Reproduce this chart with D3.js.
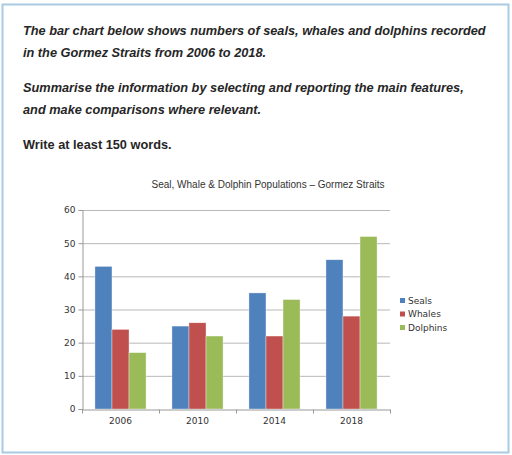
<!DOCTYPE html>
<html>
<head>
<meta charset="utf-8">
<script src="https://cdn.jsdelivr.net/npm/d3@7"></script>
<style>
  body { margin: 0; background: #fff; }
  svg { display: block; }
</style>
</head>
<body>
<svg id="mainSVG" width="512" height="455"></svg>
<script>
// chart data
var years = ["2006", "2010", "2014", "2018"];
var seriesNames = ["Seals", "Whales", "Dolphins"];
var seals = [43, 25, 35, 45];
var whales = [24, 26, 22, 28];
var dolphins = [17, 22, 33, 52];
var yTicks = [0, 10, 20, 30, 40, 50, 60];
var colors = ["#4f81bd", "#c0504d", "#9bbb59"];

var promptLines = [
  { text: "The bar chart below shows numbers of seals, whales and dolphins recorded", y: 35, italic: true },
  { text: "in the Gormez Straits from 2006 to 2018.", y: 57, italic: true },
  { text: "Summarise the information by selecting and reporting the main features,", y: 92, italic: true },
  { text: "and make comparisons where relevant.", y: 114, italic: true },
  { text: "Write at least 150 words.", y: 149, italic: false }
];

var values = [seals, whales, dolphins];
var rows = years.map((yr, i) => ({ year: yr, vals: seriesNames.map((s, j) => ({ name: s, value: values[j][i], c: j })) }));

var mainSVG = d3.select("#mainSVG");

// outer frame
mainSVG.append("rect")
  .attr("x", 2.5).attr("y", 4.5)
  .attr("width", 506).attr("height", 448)
  .attr("fill", "none")
  .attr("stroke", "#a9cbe3")
  .attr("stroke-width", 2);

// prompt text
mainSVG.append("g")
  .selectAll("text")
  .data(promptLines)
  .enter().append("text")
  .attr("x", 23)
  .attr("y", d => d.y)
  .attr("font-family", "Liberation Sans, Arial, sans-serif")
  .attr("font-size", "12.75px")
  .attr("font-weight", "bold")
  .attr("font-style", d => d.italic ? "italic" : "normal")
  .attr("fill", "#262626")
  .text(d => d.text);

// chart title
mainSVG.append("text")
  .attr("x", 268)
  .attr("y", 188)
  .attr("text-anchor", "middle")
  .attr("font-family", "Liberation Sans, Arial, sans-serif")
  .attr("font-size", "10px")
  .attr("fill", "#333")
  .text("Seal, Whale & Dolphin Populations \u2013 Gormez Straits");

var plot = { left: 82, right: 390, top: 210, bottom: 409 };

var xScale = d3.scaleBand()
  .domain(years)
  .range([plot.left, plot.right])
  .paddingInner(0)
  .paddingOuter(0);

var xInner = d3.scaleBand()
  .domain(seriesNames)
  .range([0, xScale.bandwidth()])
  .paddingOuter(0.76)
  .paddingInner(0);

var yScale = d3.scaleLinear()
  .domain([0, 60])
  .range([plot.bottom, plot.top]);

// gridlines
mainSVG.append("g")
  .selectAll("line")
  .data(yTicks.slice(1))
  .enter().append("line")
  .attr("x1", plot.left).attr("x2", plot.right)
  .attr("y1", d => yScale(d) + 0.5).attr("y2", d => yScale(d) + 0.5)
  .attr("stroke", "#b8b8b8")
  .attr("stroke-width", 1);

// bars
mainSVG.append("g")
  .selectAll("g")
  .data(rows)
  .enter().append("g")
  .attr("transform", d => "translate(" + xScale(d.year) + ",0)")
  .selectAll("rect")
  .data(d => d.vals)
  .enter().append("rect")
  .attr("x", d => xInner(d.name))
  .attr("y", d => yScale(d.value))
  .attr("width", xInner.bandwidth())
  .attr("height", d => yScale(0) - yScale(d.value))
  .attr("fill", d => colors[d.c])
  .attr("stroke", "rgba(255,255,255,0.6)")
  .attr("stroke-width", 0.6);

// y axis
var yAxis = mainSVG.append("g")
  .attr("transform", "translate(" + (plot.left + 0.5) + ",0)")
  .call(d3.axisLeft(yScale).tickValues(yTicks).tickSize(4).tickPadding(3));
yAxis.select(".domain").attr("stroke", "#999");
yAxis.selectAll(".tick line").attr("stroke", "#999");
yAxis.selectAll("text")
  .attr("font-family", "DejaVu Sans, sans-serif")
  .attr("font-size", "9px")
  .attr("fill", "#333");

// x axis
var xAxis = mainSVG.append("g")
  .attr("transform", "translate(0," + (plot.bottom + 0.5) + ")")
  .call(d3.axisBottom(xScale).tickSize(0).tickPadding(8));
xAxis.select(".domain").attr("stroke", "#999");
xAxis.selectAll("text")
  .attr("font-family", "DejaVu Sans, sans-serif")
  .attr("font-size", "9px")
  .attr("fill", "#333");

// category boundary ticks
xAxis.append("g")
  .selectAll("line")
  .data(years.concat(["end"]))
  .enter().append("line")
  .attr("x1", (d, i) => (i < years.length ? xScale(d) : plot.right) + 0.5)
  .attr("x2", (d, i) => (i < years.length ? xScale(d) : plot.right) + 0.5)
  .attr("y1", 0).attr("y2", 4)
  .attr("stroke", "#999");

// legend
var legend = mainSVG.append("g")
  .attr("transform", "translate(400,298)")
  .selectAll("g")
  .data(seriesNames)
  .enter().append("g")
  .attr("transform", (d, i) => "translate(0," + (i * 13.5) + ")");

legend.append("rect")
  .attr("width", 5).attr("height", 5)
  .attr("fill", (d, i) => colors[i]);

legend.append("text")
  .attr("x", 8)
  .attr("y", 5.5)
  .attr("font-family", "DejaVu Sans, sans-serif")
  .attr("font-size", "9px")
  .attr("fill", "#333")
  .text(d => d);
</script>
</body>
</html>
